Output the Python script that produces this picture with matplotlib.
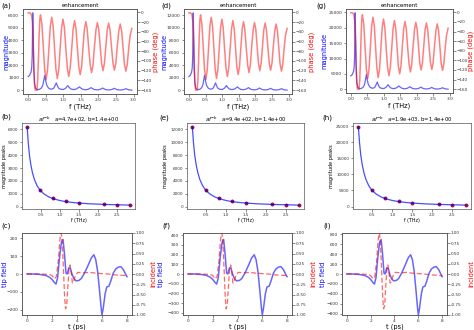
import matplotlib.pyplot as plt
import numpy as np
from matplotlib.ticker import FormatStrFormatter

W, H = 474, 330

# --- row 1: enhancement spectrum, column (a); (d) and (g) are the same shape, larger
mag_f = [0.00, 0.04, 0.08, 0.10, 0.115, 0.13, 0.145, 0.16, 0.18, 0.21,
         0.26, 0.32, 0.38, 0.42, 0.45, 0.47, 0.495, 0.53, 0.58, 0.65,
         0.72, 0.76, 0.80, 0.825, 0.86, 0.92, 1.00, 1.07, 1.11, 1.13,
         1.16, 1.21, 1.29, 1.37, 1.43, 1.46, 1.49, 1.55, 1.63, 1.71,
         1.76, 1.79, 1.82, 1.88, 1.97, 2.05, 2.10, 2.12, 2.15, 2.21,
         2.30, 2.38, 2.43, 2.45, 2.48, 2.54, 2.63, 2.71, 2.76, 2.78,
         2.81, 2.87, 2.95]
mag_a = [1100, 1200, 1450, 1800, 2800, 6200, 4200, 1800, 600, 180,
         60, 80, 200, 450, 900, 1200, 800, 400, 180, 90,
         150, 350, 600, 420, 200, 90, 70, 180, 330, 380,
         260, 120, 60, 110, 220, 280, 200, 90, 50, 90,
         170, 220, 160, 70, 40, 80, 150, 190, 140, 60,
         35, 70, 130, 165, 120, 50, 30, 60, 110, 135,
         100, 40, 20]
phase_f = [0.00, 0.05, 0.09, 0.12, 0.14, 0.16, 0.18, 0.20, 0.25, 0.27, 0.29, 0.31, 0.33, 0.35,
           0.39, 0.43, 0.47, 0.51, 0.55, 0.59, 0.63, 0.67,
           0.71, 0.75, 0.79, 0.83, 0.87, 0.91, 0.95, 0.99,
           1.03, 1.07, 1.115, 1.155, 1.195, 1.24, 1.28, 1.32,
           1.36, 1.40, 1.44, 1.48, 1.52, 1.56, 1.60, 1.64,
           1.68, 1.72, 1.765, 1.805, 1.845, 1.885, 1.93, 1.97,
           2.01, 2.05, 2.09, 2.13, 2.17, 2.21, 2.25, 2.29,
           2.33, 2.37, 2.415, 2.455, 2.495, 2.535, 2.58, 2.62,
           2.66, 2.70, 2.74, 2.78, 2.82, 2.86, 2.90, 2.95]
phase_deg = [-1, -1, -4, -20, -60, -110, -148, -160, -160, -140, -100, -50, -15, -5,
             -24, -71, -118, -138, -119, -74, -29, -10,
             -28, -73, -117, -136, -118, -75, -32, -14,
             -31, -73, -115, -132, -115, -74, -34, -17,
             -33, -72, -112, -128, -112, -73, -35, -19,
             -34, -71, -108, -124, -109, -72, -36, -21,
             -35, -70, -105, -120, -105, -71, -36, -22,
             -36, -70, -105, -119, -105, -71, -38, -24,
             -38, -72, -107, -121, -107, -75, -48, -33]
mag_scale = [1, 2, 4]
mag_ticks = [[0, 1000, 2000, 3000, 4000, 5000, 6000],
             [0, 2000, 4000, 6000, 8000, 10000, 12000],
             [0, 5000, 10000, 15000, 20000, 25000]]
phase_ticks = [0, -20, -40, -60, -80, -100, -120, -140, -160]

# --- row 2: resonance peaks and power-law fit a*f^-b
peak_f = [0.15, 0.49, 0.825, 1.16, 1.50, 2.16, 2.50, 2.83]
peak_mag = [6200, 1250, 640, 400, 290, 180, 150, 120]
fit_f = [0.15, 0.18, 0.21, 0.25, 0.29, 0.34, 0.41, 0.49, 0.60, 0.72, 0.83,
         1.00, 1.16, 1.35, 1.50, 1.80, 2.16, 2.50, 2.83]
fit_mag = [6200, 4950, 4000, 3200, 2620, 2100, 1620, 1250, 960, 740, 610,
           470, 380, 310, 270, 210, 165, 135, 112]
fit_titles = ['a=4.7e+02, b=1.4e+00', 'a=9.4e+02, b=1.4e+00', 'a=1.9e+03, b=1.4e+00']

# --- row 3: time traces, column (c)
tip_t = [0.0, 0.5, 1.0, 1.5, 1.8, 2.0, 2.2, 2.32, 2.45, 2.6, 2.75, 2.88, 3.0, 3.12,
         3.22, 3.35, 3.48, 3.6, 3.75, 3.92, 4.15, 4.35, 4.6, 4.9, 5.15, 5.35, 5.5,
         5.65, 5.8, 5.92, 6.0, 6.1, 6.25, 6.38, 6.55, 6.7, 6.9, 7.1, 7.3, 7.5, 7.7,
         7.88, 8.0]
tip_field = [0, 0, -2, -8, -18, -30, -48, -56, -20, 90, 175, 192, 110, 5,
             0, 35, 30, 0, -25, -38, -36, -25, 5, 50, 90, 107, 80,
             15, -90, -180, -228, -190, -110, -72, -68, -40, 5, 28, 38, 41, 25,
             0, -15]
inc_t = [0.0, 1.0, 1.8, 2.0, 2.2, 2.35, 2.5, 2.6, 2.68, 2.75, 2.83, 2.92, 3.0, 3.08,
         3.17, 3.27, 3.36, 3.45, 3.55, 3.63, 3.72, 3.85, 4.05, 4.5, 5.0, 5.5, 6.0,
         6.5, 7.0, 7.5, 8.0]
incident = [0, 0, -0.01, -0.04, -0.12, -0.06, 0.3, 0.72, 0.97, 1.0, 0.7, 0.1, -0.5, -0.85,
            -0.78, -0.3, 0.12, 0.22, 0.02, -0.22, -0.2, -0.06, 0.04, 0.03, 0.04, 0.02, 0.01,
            0.0, -0.02, -0.03, -0.04]
tip_scale = [1, 1.86, 3.6]
tip_ticks = [[-200, -100, 0, 100, 200],
             [-400, -300, -200, -100, 0, 100, 200, 300, 400],
             [-800, -600, -400, -200, 0, 200, 400, 600, 800]]
inc_ticks = [-1.0, -0.75, -0.5, -0.25, 0.0, 0.25, 0.5, 0.75, 1.0]

panel_letters = [['(a)', '(d)', '(g)'], ['(b)', '(e)', '(h)'], ['(c)', '(f)', '(i)']]
row1_box = [(23, 9, 137, 94), (184, 9, 292, 94), (346, 9, 453, 93)]
row2_box = [(22, 123, 135, 209), (187, 123, 304, 209), (353, 123, 471, 209)]
row3_box = [(22, 233, 132, 315), (183, 233, 292, 315), (342, 233, 447, 315)]
letter_pos = [[(1, 6), (161, 6), (316, 6)],
              [(1, 117), (159, 118), (322, 118)],
              [(1, 226), (162, 226), (323, 226)]]
# centre x (pixels) of the y-axis labels: left, right
row1_lab = [(7, 155), (165, 311), (325, 470)]
row2_lab = [5, 165, 331]
row3_lab = [(5, 153), (161, 313), (324, 471)]

TICK = 3.2
LAB = 4.8


def box(l, t, r, b):
    return [l / W, 1 - b / H, (r - l) / W, (b - t) / H]


def place(axis, bx, xc, side):
    # left labels are anchored on their right edge, right labels on their left edge
    l, t, r, b = bx
    x = xc + 2.5 if side == 'left' else xc - 2.5
    axis.set_label_coords((x - l) / (r - l), 0.5)


def small_ticks(ax, size=TICK):
    ax.tick_params(labelsize=size, length=1.8, width=0.4, pad=1, colors='#333333')
    for s in ax.spines.values():
        s.set_linewidth(0.5)
        s.set_color('#555555')


fig = plt.figure(figsize=(W / 100, H / 100), dpi=100)

for i in range(3):
    # row 1
    ax = fig.add_axes(box(*row1_box[i]))
    ax.plot(mag_f, np.array(mag_a) * mag_scale[i], color='blue', alpha=0.6, lw=0.9)
    ax.set_yticks(mag_ticks[i])
    ax.set_xticks([0, 0.5, 1.0, 1.5, 2.0, 2.5, 3.0])
    ax.set_xlabel('f (THz)', fontsize=LAB, labelpad=1)
    ax.set_ylabel('magnitude', color='blue', fontsize=LAB)
    place(ax.yaxis, row1_box[i], row1_lab[i][0], 'left')
    ax.set_title('enhancement', fontsize=3.9, pad=1.5)
    small_ticks(ax)
    ax2 = ax.twinx()
    ax2.plot(phase_f, phase_deg, color='red', alpha=0.5, lw=1.1)
    ax2.set_yticks(phase_ticks)
    ax2.set_ylabel('phase (deg)', color='red', fontsize=LAB)
    place(ax2.yaxis, row1_box[i], row1_lab[i][1], 'right')
    small_ticks(ax2, 3)

    # row 2
    bx = fig.add_axes(box(*row2_box[i]))
    bx.plot(peak_f, np.array(peak_mag) * mag_scale[i], 'o', color='#a0103c', ms=1.8)
    bx.plot(fit_f, np.array(fit_mag) * mag_scale[i], color='blue', alpha=0.7, lw=0.9)
    bx.set_yticks(mag_ticks[i])
    bx.set_xticks([0.5, 1.0, 1.5, 2.0, 2.5])
    bx.set_ylabel('magnitude peaks', fontsize=3.6)
    place(bx.yaxis, row2_box[i], row2_lab[i], 'left')
    bx.set_xlabel('f (THz)', fontsize=3.4, labelpad=1)
    bx.set_title(r'$af^{-b}$   ' + fit_titles[i], fontsize=3.8, pad=1.5)
    small_ticks(bx, 3)

    # row 3
    cx = fig.add_axes(box(*row3_box[i]))
    tip = np.array(tip_field) * tip_scale[i]
    cx.plot(tip_t, tip, color='blue', alpha=0.6, lw=1.1)
    m = np.abs(tip).max()
    cx.set_ylim(-m, m)
    cx.set_yticks(tip_ticks[i])
    cx.set_xticks([0, 2, 4, 6, 8])
    cx.set_xlabel('t (ps)', fontsize=LAB, labelpad=0.5)
    cx.set_ylabel('tip field', color='blue', fontsize=LAB)
    place(cx.yaxis, row3_box[i], row3_lab[i][0], 'left')
    small_ticks(cx)
    cx2 = cx.twinx()
    cx2.plot(inc_t, incident, color='red', alpha=0.6, lw=0.9, ls=(0, (4, 2)))
    cx2.set_ylim(-1, 1)
    cx2.set_yticks(inc_ticks)
    cx2.yaxis.set_major_formatter(FormatStrFormatter('%.2f'))
    cx2.set_ylabel('incident', color='red', fontsize=LAB)
    place(cx2.yaxis, row3_box[i], row3_lab[i][1], 'right')
    small_ticks(cx2, 3)

    for r in range(3):
        x, y = letter_pos[r][i]
        fig.text(x / W, 1 - y / H, panel_letters[r][i], fontsize=5, va='center')

fig.savefig('out.png', dpi=100)
